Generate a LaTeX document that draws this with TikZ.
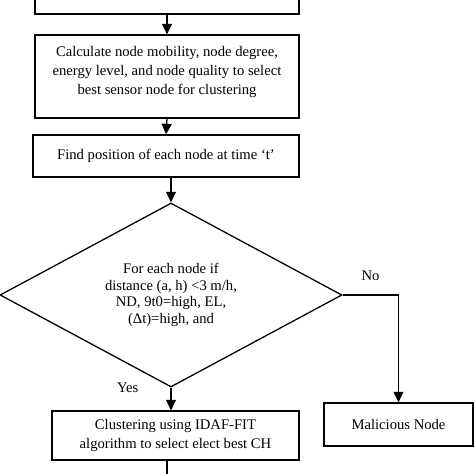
\documentclass[tikz,border=0pt]{standalone}
\usepackage{fontspec}
\setmainfont{Liberation Serif}
\usetikzlibrary{arrows.meta,positioning,shapes.geometric}
\tikzset{
  flowbox/.style={draw=black,line width=1.1pt,rectangle,align=center,inner sep=2pt,
    font=\fontsize{12.5}{16.2}\selectfont},
  decisionbox/.style={draw=black,line width=1.1pt,diamond,aspect=1.86,align=center,
    inner sep=0pt,minimum width=10.26cm,minimum height=5.52cm,
    font=\fontsize{12.5}{14.2}\selectfont},
  flowarrow/.style={-{Triangle[length=9pt,width=8.5pt]},line width=1.1pt},
  branchlabel/.style={font=\fontsize{12.5}{15}\selectfont}
}

\begin{document}
\begin{tikzpicture}[x=0.03cm,y=-0.03cm]
  \clip (0,0) rectangle (474,474);
  \node[flowbox,minimum width=7.92cm,minimum height=1.5cm] (init) at (167,-11) {};
  \node[flowbox,minimum width=7.92cm,minimum height=2.49cm] (calc) at (167,76.5)
    {Calculate node mobility, node degree,\\energy level, and node quality to select\\best sensor node for clustering\\[-5pt]~};
  \node[flowbox,minimum width=7.98cm,minimum height=1.26cm] (find) at (166,156)
    {Find position of each node at time ‘t’};
  \node[decisionbox] (check) at (171,295)
    {For each node if\\distance (a, h) <3 m/h,\\ND, 9t0=high, EL,\\(Δt)=high, and};
  \node[flowbox,minimum width=7.41cm,minimum height=1.47cm] (cluster) at (175.5,435.5)
    {Clustering using IDAF-FIT\\algorithm to select elect best CH};
  \node[flowbox,minimum width=4.47cm,minimum height=1.29cm] (malicious) at (398.5,424.5)
    {Malicious Node};
  \coordinate (next) at (167,500);
  \draw[flowarrow] (init.south) -- (calc.north);
  \draw[flowarrow] (calc.south) -- (find.north);
  \draw[flowarrow] (find.south -| check.north) -- (check.north);
  \draw[flowarrow] (check.south) -- node[branchlabel,pos=0,left=24pt] (yes) {Yes} (check.south |- cluster.north);
  \draw[flowarrow] (check.east) -| node[branchlabel,pos=0.25,above=8.5pt] (no) {No} (malicious.north);
  \draw[flowarrow] (next |- cluster.south) -- (next);
\end{tikzpicture}
\end{document}
